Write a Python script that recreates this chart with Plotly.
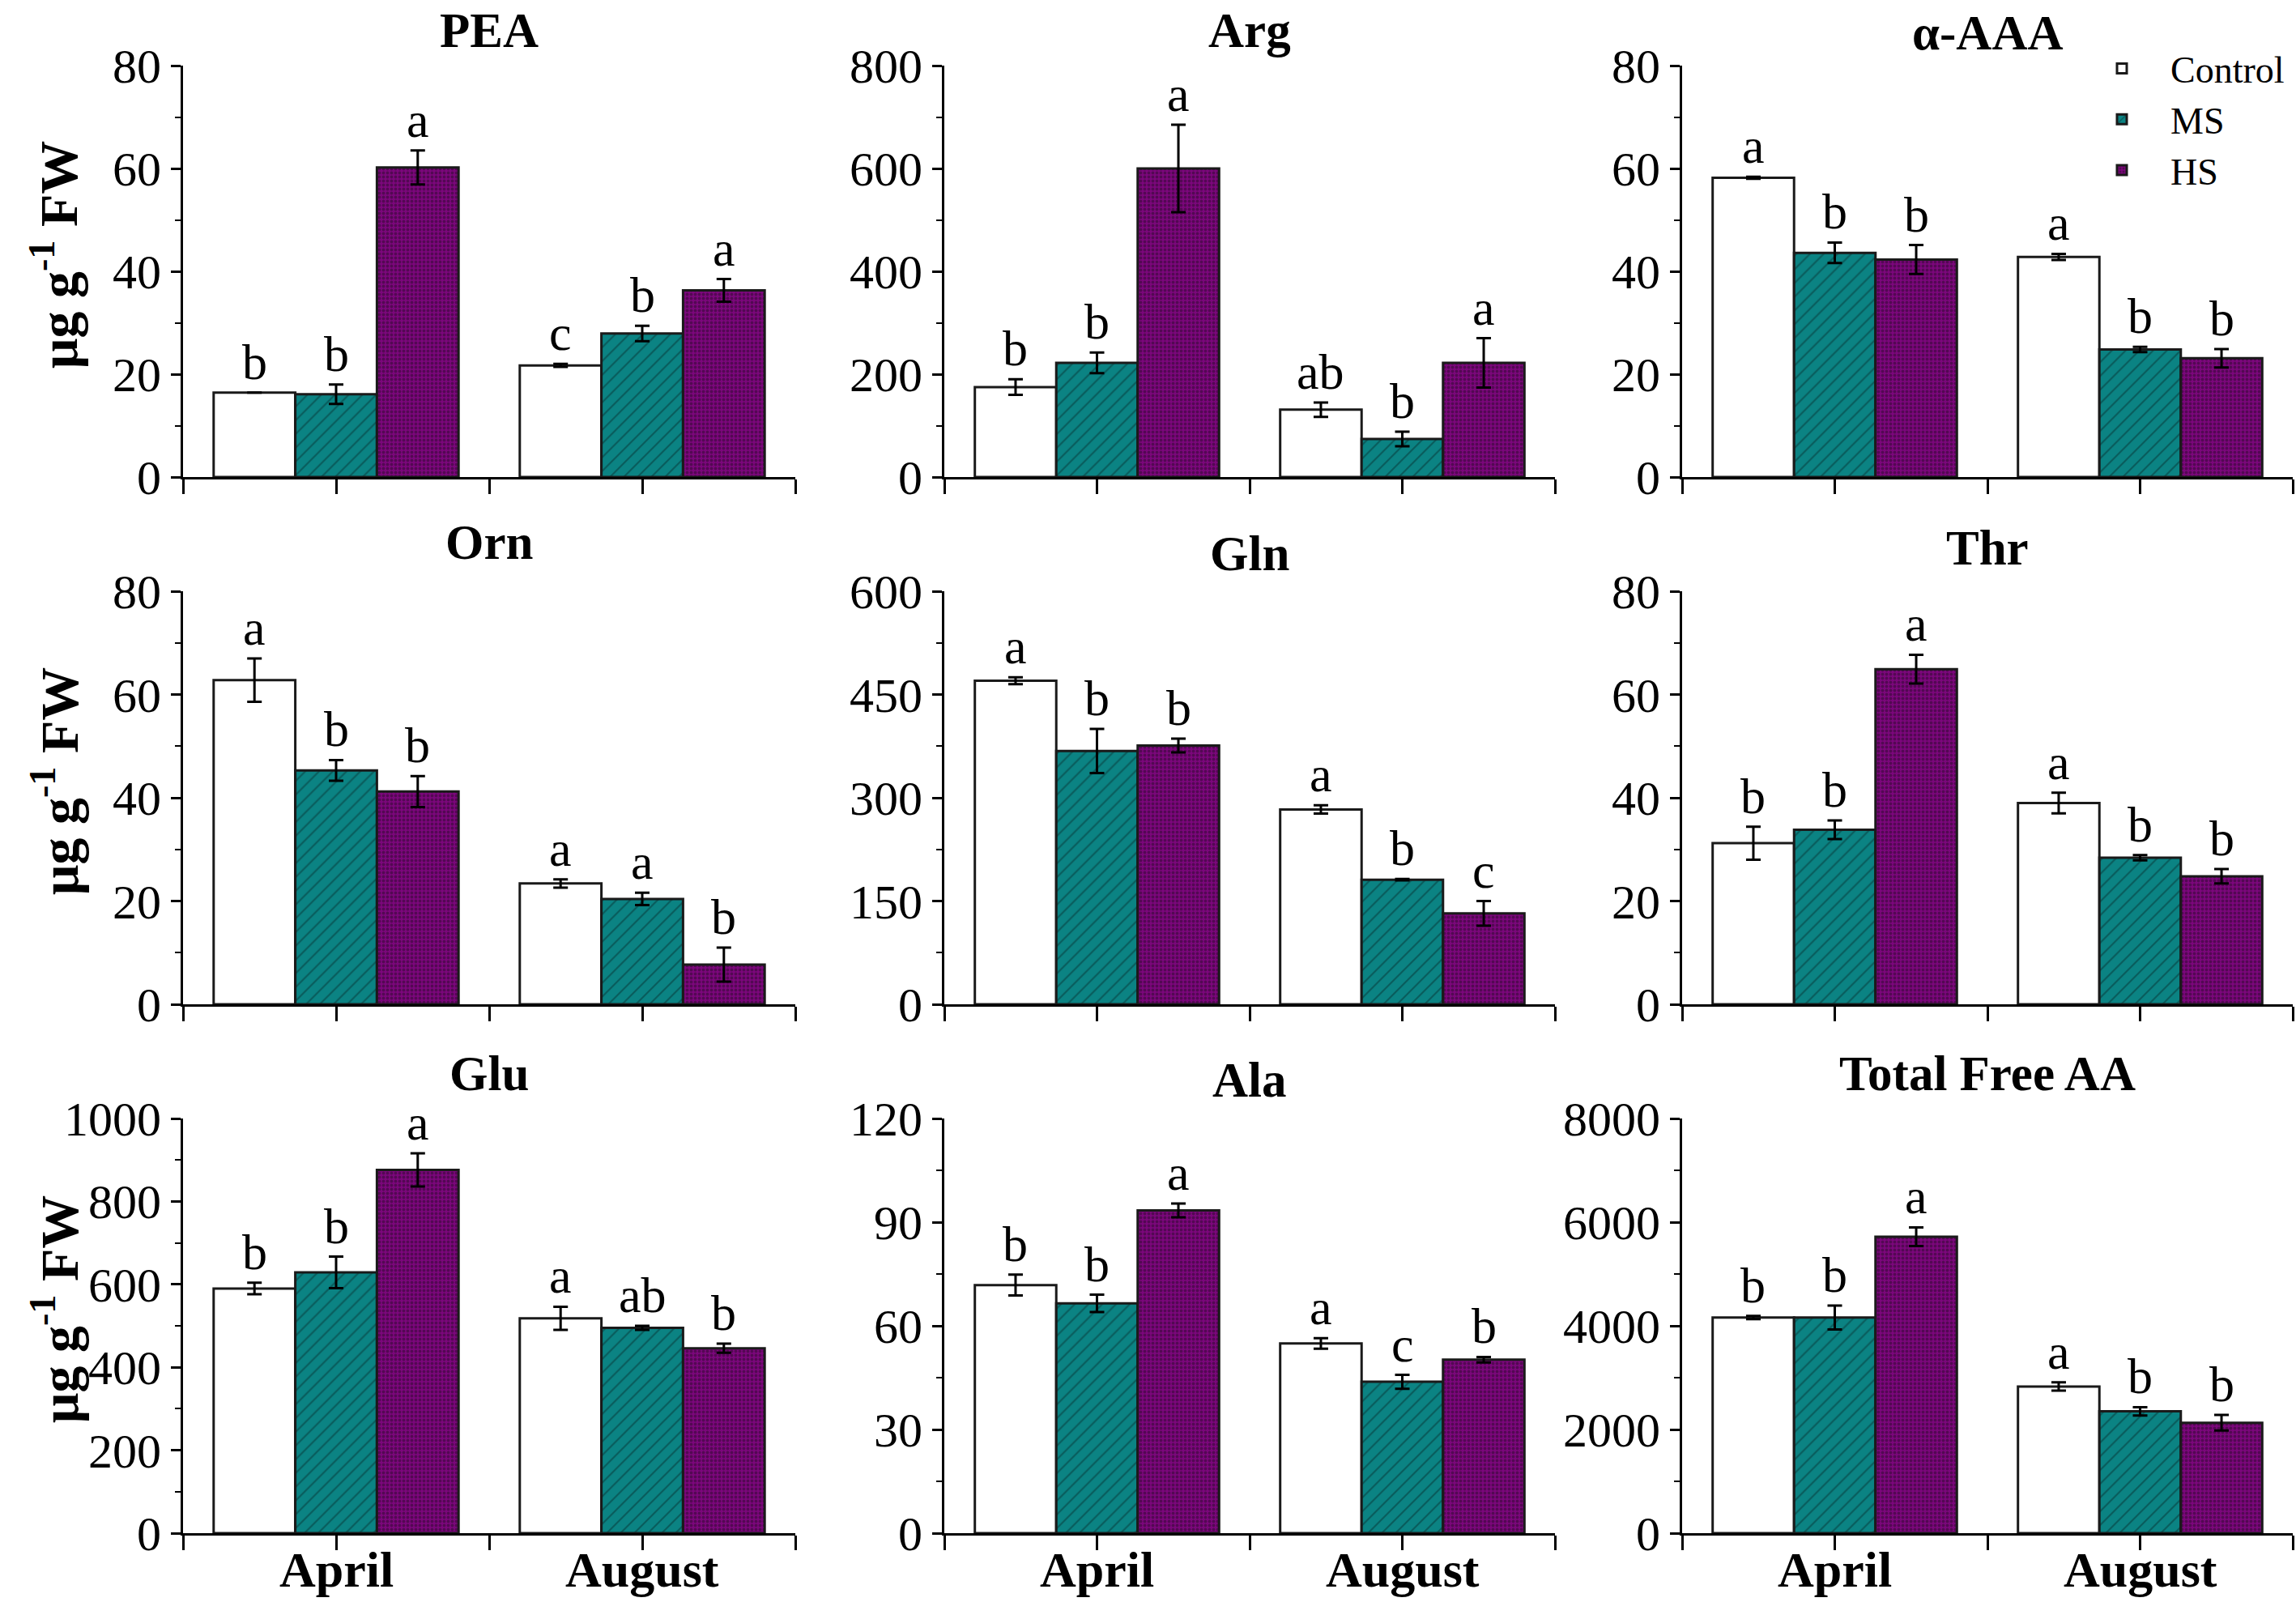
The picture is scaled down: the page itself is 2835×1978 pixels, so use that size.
import plotly.graph_objects as go

# ---------------- data ----------------
months = ["April", "August"]
treatments = ["Control", "MS", "HS"]
panel_titles = ["PEA", "Arg", "α-AAA", "Orn", "Gln", "Thr", "Glu", "Ala", "Total Free AA"]

# values: [Control, MS, HS] x [April, August]
pea_mean = [[16.4, 21.7], [16.1, 27.9], [60.2, 36.3]]
pea_err = [[0.0, 0.3], [1.9, 1.5], [3.3, 2.2]]
pea_sig = [["b", "c"], ["b", "b"], ["a", "a"]]

arg_mean = [[175, 131], [222, 74], [600, 222]]
arg_err = [[15, 14], [20, 14], [85, 48]]
arg_sig = [["b", "ab"], ["b", "b"], ["a", "a"]]

aaa_mean = [[58.2, 42.8], [43.6, 24.8], [42.3, 23.1]]
aaa_err = [[0.2, 0.6], [2.0, 0.5], [2.8, 1.8]]
aaa_sig = [["a", "a"], ["b", "b"], ["b", "b"]]

orn_mean = [[62.8, 23.4], [45.3, 20.4], [41.2, 7.7]]
orn_err = [[4.2, 0.8], [2.0, 1.2], [3.0, 3.3]]
orn_sig = [["a", "a"], ["b", "a"], ["b", "b"]]

gln_mean = [[470, 283], [368, 181], [376, 132]]
gln_err = [[5, 6], [32, 1], [10, 18]]
gln_sig = [["a", "a"], ["b", "b"], ["b", "c"]]

thr_mean = [[31.2, 39.0], [33.8, 28.4], [64.9, 24.8]]
thr_err = [[3.2, 2.0], [1.8, 0.5], [2.8, 1.4]]
thr_sig = [["b", "a"], ["b", "b"], ["a", "b"]]

glu_mean = [[590, 518], [629, 495], [876, 446]]
glu_err = [[14, 28], [38, 5], [40, 11]]
glu_sig = [["b", "a"], ["b", "ab"], ["a", "b"]]

ala_mean = [[71.8, 54.9], [66.5, 43.8], [93.4, 50.2]]
ala_err = [[3.0, 1.5], [2.5, 2.0], [2.0, 0.8]]
ala_sig = [["b", "a"], ["b", "c"], ["a", "b"]]

tfaa_mean = [[4160, 2830], [4160, 2350], [5720, 2130]]
tfaa_err = [[30, 80], [230, 80], [180, 150]]
tfaa_sig = [["b", "a"], ["b", "b"], ["a", "b"]]

y_max = [80, 800, 80, 80, 600, 80, 1000, 120, 8000]
y_dtick = [20, 200, 20, 20, 150, 20, 200, 30, 2000]

means = [pea_mean, arg_mean, aaa_mean, orn_mean, gln_mean, thr_mean, glu_mean, ala_mean, tfaa_mean]
errs = [pea_err, arg_err, aaa_err, orn_err, gln_err, thr_err, glu_err, ala_err, tfaa_err]
sigs = [pea_sig, arg_sig, aaa_sig, orn_sig, gln_sig, thr_sig, glu_sig, ala_sig, tfaa_sig]

# ---------------- styling ----------------
W, H = 2835, 1978
SERIF = "Liberation Serif, Times New Roman, serif"
fills = ["#ffffff", "#0b8383", "#7c067c"]
patterns = [
    dict(shape=""),
    dict(shape="/", fgcolor="#083434", bgcolor="#0b8383", size=12, solidity=0.18),
    dict(shape=".", fgcolor="#2a0a2a", bgcolor="#7c067c", size=5, solidity=0.45),
]
col_px = [(226, 982), (1166, 1920), (2077, 2831)]
row_px = [(81, 589), (730, 1240), (1381, 1893)]
title_y_px = [38, 38, 40, 669, 683, 676, 1325, 1333, 1325]
month_label_y_px = 1938

bar_w = 0.8 / 3
offsets = [-bar_w, 0.0, bar_w]

fig = go.Figure()
layout = dict(
    width=W, height=H,
    margin=dict(l=0, r=0, t=0, b=0, autoexpand=False),
    paper_bgcolor="white", plot_bgcolor="white",
    barmode="group", bargap=0.2, bargroupgap=0.0,
    font=dict(family=SERIF, size=56, color="black"),
    showlegend=True,
    legend=dict(
        x=2560 / W, y=1 - 48 / H, xanchor="left", yanchor="top",
        font=dict(family=SERIF, size=46, color="black"),
        bgcolor="rgba(0,0,0,0)", itemwidth=110, tracegroupgap=0,
    ),
)
annotations = []

for k in range(9):
    r, c = divmod(k, 3)
    ax = "" if k == 0 else str(k + 1)
    xname, yname = "x" + ax, "y" + ax
    x0, x1 = col_px[c]
    y0, y1 = row_px[r]
    for t in range(3):
        fig.add_trace(go.Bar(
            x=[0, 1], y=means[k][t],
            name=treatments[t], legendgroup=treatments[t],
            showlegend=(k == 0),
            offsetgroup=str(t),
            xaxis=xname, yaxis=yname,
            marker=dict(color=fills[t], line=dict(color="#1a1a1a", width=3),
                        pattern=patterns[t]),
            error_y=dict(type="data", array=errs[k][t], visible=True,
                         color="black", thickness=3, width=9),
        ))
        for m in range(2):
            annotations.append(dict(
                xref=xname, yref=yname, x=m + offsets[t],
                y=means[k][t][m] + errs[k][t][m],
                text=sigs[k][t][m], showarrow=False,
                yanchor="bottom", yshift=2,
                font=dict(family=SERIF, size=62, color="black"),
            ))
    layout["xaxis" + ax] = dict(
        domain=[x0 / W, x1 / W], anchor=yname, automargin=False,
        range=[-0.5, 1.5], showgrid=False, zeroline=False,
        showline=True, linecolor="black", linewidth=3,
        ticks="", tickmode="array", tickvals=[0, 1],
        showticklabels=False,
        minor=dict(tickmode="array", tickvals=[-0.5, 0, 0.5, 1, 1.5],
                   ticks="outside", ticklen=18, tickwidth=3, tickcolor="black",
                   showgrid=False),
        fixedrange=True,
    )
    layout["yaxis" + ax] = dict(
        domain=[1 - y1 / H, 1 - y0 / H], anchor=xname, automargin=False,
        range=[0, y_max[k]], dtick=y_dtick[k], tick0=0,
        showgrid=False, zeroline=False,
        showline=True, linecolor="black", linewidth=3,
        ticks="outside", ticklen=12, tickwidth=3, tickcolor="black",
        minor=dict(ticks="outside", ticklen=7, tickwidth=2, tickcolor="black",
                   dtick=y_dtick[k] / 2, showgrid=False),
        tickfont=dict(family=SERIF, size=60, color="black"),
        fixedrange=True,
    )
    if r == 2:
        for m in range(2):
            annotations.append(dict(
                xref=xname, yref="paper", x=m, y=1 - month_label_y_px / H,
                text="<b>" + months[m] + "</b>", showarrow=False,
                xanchor="center", yanchor="middle",
                font=dict(family=SERIF, size=62, color="black"),
            ))
    # panel title
    annotations.append(dict(
        xref="paper", yref="paper", x=(x0 + x1) / 2 / W, y=1 - title_y_px[k] / H,
        text="<b>" + panel_titles[k] + "</b>", showarrow=False,
        xanchor="center", yanchor="middle", borderpad=0,
        font=dict(family=SERIF, size=61, color="black"),
    ))
    if c == 0:
        annotations.append(dict(
            xref="paper", yref="paper", x=68 / W, y=1 - ((y0 + y1) / 2 - 20) / H,
            text="<b>μg g<sup>-1</sup> FW</b>", showarrow=False, textangle=-90,
            xanchor="center", yanchor="middle",
            font=dict(family=SERIF, size=66, color="black"),
        ))

layout["annotations"] = annotations
fig.update_layout(**layout)
fig.write_html("out.html")
